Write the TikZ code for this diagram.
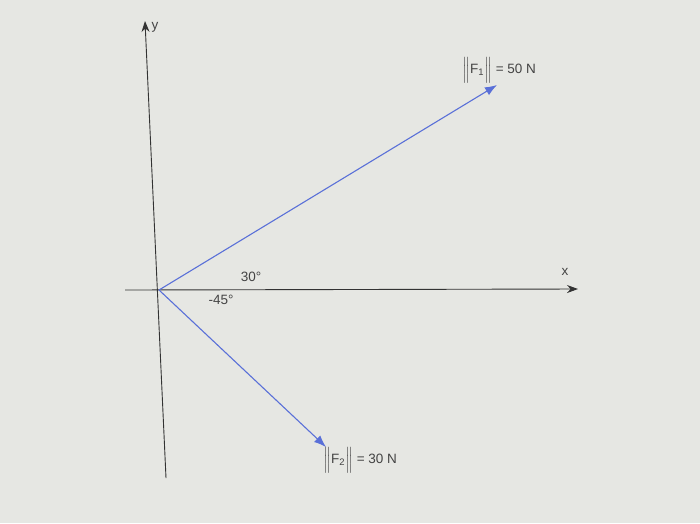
\documentclass[tikz,border=0pt]{standalone}
\usepackage{amsmath}
\usepackage{fontspec}
\setmainfont{Liberation Sans}
\usetikzlibrary{arrows.meta}
\definecolor{bg}{HTML}{E6E7E3}
\definecolor{axis}{HTML}{333333}
\definecolor{vec}{HTML}{5A70D8}
\definecolor{lbl}{HTML}{444444}
\begin{document}
\begin{tikzpicture}[x=1pt,y=-1pt,
  axisline/.style={draw=axis,line width=0.9pt},
  vecline/.style={draw=vec,line width=1.1pt,-{Latex[length=12pt,width=9pt]}},
  lab/.style={text=lbl,font=\fontsize{13.5}{15}\selectfont,inner sep=1pt}]
\fill[bg] (0,0) rectangle (700,523);
\useasboundingbox (0,0) rectangle (700,523);
\coordinate (O) at (159,290);
\coordinate (xl) at (125,290);
\coordinate (xr) at (578,289);
\coordinate (yb) at (166,478);
\coordinate (yt) at (145,21);
\coordinate (F1) at (497,85);
\coordinate (F2) at (326,447);
\draw[axisline,-{Stealth[length=11pt,width=8pt]}] (xl) -- (xr);
\draw[axisline,-{Stealth[length=11pt,width=8pt]}] (yb) -- (yt);
\draw[vecline] (O) -- (F1);
\draw[vecline] (O) -- (F2);
\node[lab] (xlab) at (565,272) {x};
\node[lab] (ylab) at (155,27) {y};
\node[lab] (a30) at (251,277) {30°};
\node[lab] (a45) at (221,300) {-45°};
\node[lab] (n1) at (499,70) {$\Bigl\|\text{F}_{\text{1}}\Bigr\|$ = 50 N};
\node[lab] (n2) at (360,460) {$\Bigl\|\text{F}_{\text{2}}\Bigr\|$ = 30 N};
\end{tikzpicture}
\end{document}
